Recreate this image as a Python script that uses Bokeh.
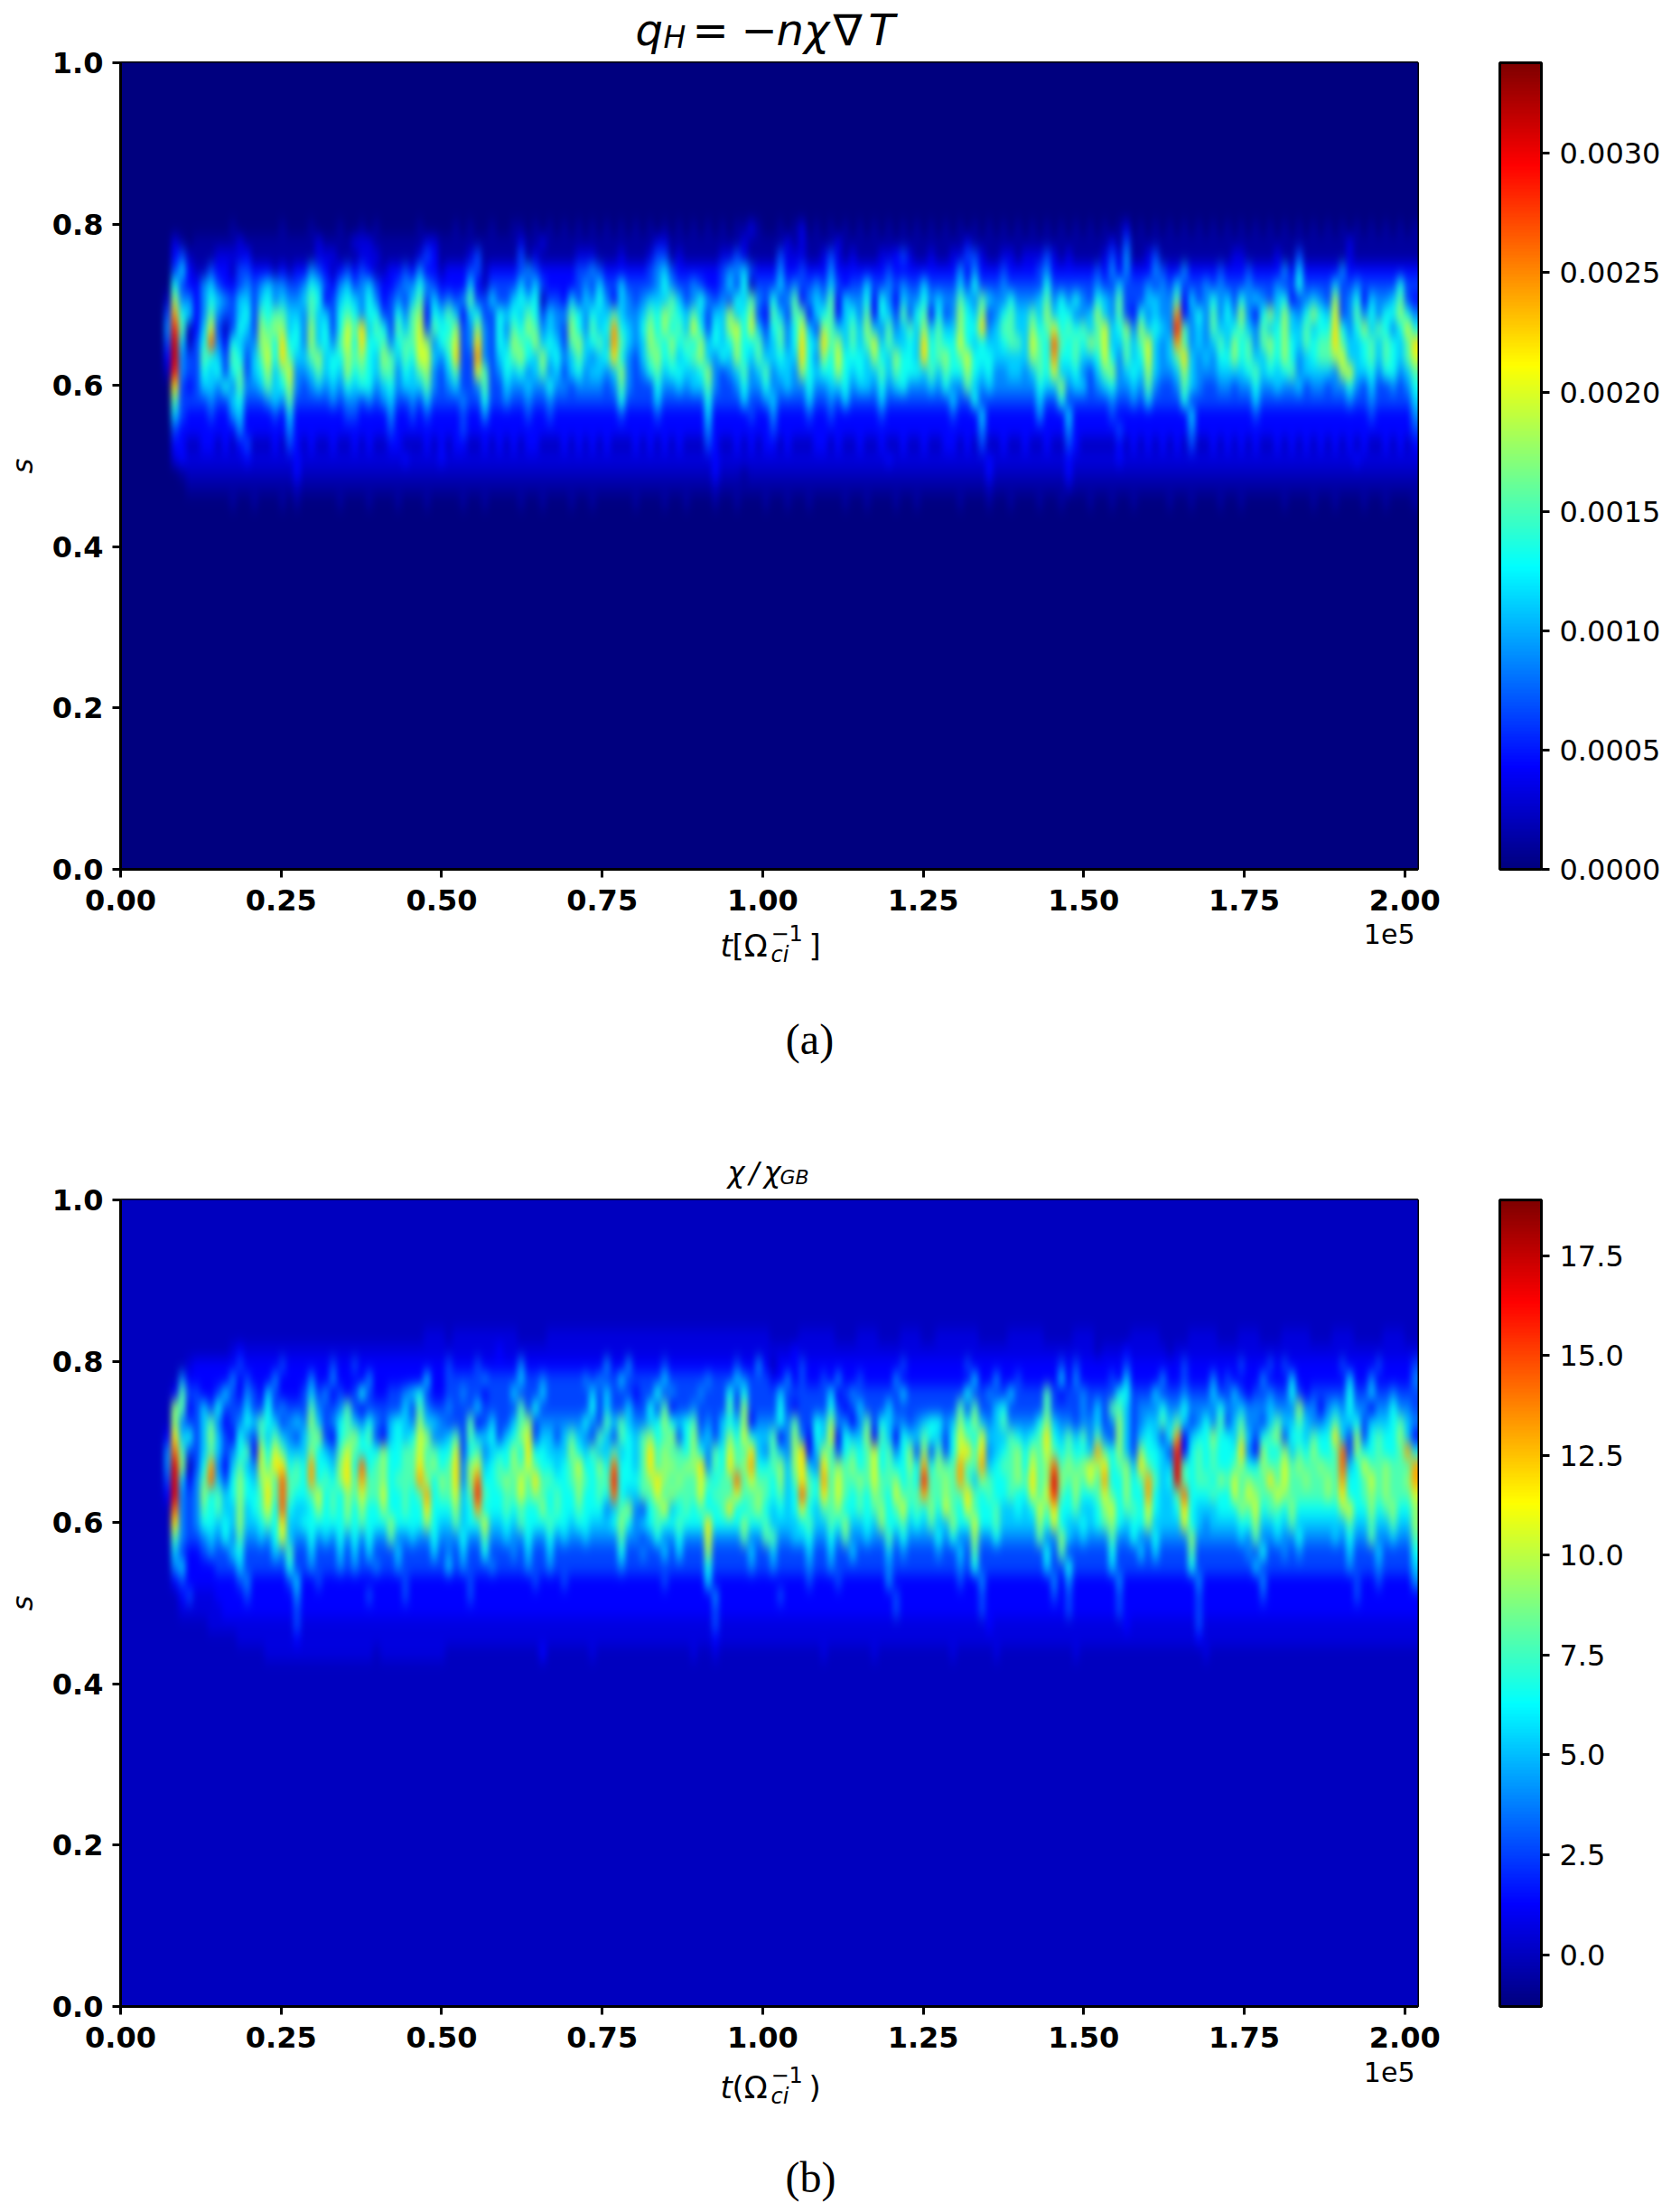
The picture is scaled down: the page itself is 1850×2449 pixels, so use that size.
from bokeh.embed import file_html
from bokeh.io import curdoc
from bokeh.layouts import column
from bokeh.models import ColorBar, CustomJS, FixedTicker, Label, LinearColorMapper, PrintfTickFormatter
from bokeh.plotting import figure
from bokeh.resources import INLINE
import numpy as np

t_ticks = [0, 25000, 50000, 75000, 100000, 125000, 150000, 175000, 200000]
t_labels = ["0.00", "0.25", "0.50", "0.75", "1.00", "1.25", "1.50", "1.75", "2.00"]
s_ticks = [0.0, 0.2, 0.4, 0.6, 0.8, 1.0]
qh_ticks = [0.0, 0.0005, 0.0010, 0.0015, 0.0020, 0.0025, 0.0030]
chi_ticks = [0.0, 2.5, 5.0, 7.5, 10.0, 12.5, 15.0, 17.5]

# values read off the picture as hex levels, band s=0.41..0.86, top row first,
# one list per quarter of the time axis, "." is 0.5 and ":" is 1.5
# qH = level * 0.00022, chi = (level - 1) * 1.3
qh_part1 = [
    "00000 00000 00000 00000 00000 00000 00000 00000 00000",
    "00000 00000 00000 00000 00000 00000 00000 00000 00000",
    "00000 00000 00000 00000 00000 00000 00000 00000 00000",
    "00000 00000 00000 .0000 00.00 0.000 .00.0 .0000 0.000",
    "00000 00:.0 ..... .:... ..... ..:.. ..::: ..... ..::.",
    "00000 00231 ...:: ::2.. ..... ..::: ...:: :.... .:32.",
    "00000 00352 11322 13322 21212 24321 23232 11223 24221",
    "00000 00632 24532 23434 54433 46532 45345 32234 46432",
    "00000 01844 24654 35535 64544 57623 56546 42343 57353",
    "00000 03b65 24743 35637 67755 47553 67646 63364 78265",
    "00000 04d71 25931 36538 78856 48563 697a5 76375 79376",
    "00000 03e51 36c42 65448 86a66 48564 796a6 67467 79846",
    "00000 02e43 37653 76357 96a75 57856 68786 58757 69954",
    "00000 01d43 36563 67356 85794 45756 58676 57746 57843",
    "00000 00a32 35546 47445 75684 34545 46566 45645 55743",
    "00000 00733 33433 56333 45473 33334 34434 34533 43533",
    "00000 00532 22322 45222 23252 22222 23322 22422 32322",
    "00000 00322 22222 24222 22242 22222 22222 22322 22222",
    "00000 00221 12212 12311 12132 12112 11212 11221 11212",
    "00000 00:2: ::::: ::2:: ::::2 ::::: ::::: ::::2 ::::2",
    "00000 000.1 11111 11111 11112 11111 11111 11111 11111",
    "00000 0000. ..... ..... ....1 ..... ..... ..... .....",
    "00000 00000 00000 .00.0 00.0. 00000 .000. 000.0 00.00",
    "00000 00000 00000 00000 00000 00000 00000 00000 00000",
    "00000 00000 00000 00000 00000 00000 00000 00000 00000",
]
qh_part2 = [
    "00000 00000 00000 00000 00000 00000 00000 00000 00000",
    "00000 00000 00000 00000 00000 00000 00000 00000 00000",
    "00000 00000 00000 00000 00000 00000 00000 00000 00000",
    "0.0.0 0.00. .0.0. 0.0.0 .0.0. 0.0.0 .0.0. 0.0.0 ..:.0",
    "..... ..... :..:. ..... ..... ....: :.... ..... .:...",
    "...:3 ..... 3.:.. ...:: :...: ...:3 3.:.. ...:: 3:...",
    "22233 12222 34322 22233 43222 22234 53222 22234 45322",
    "22252 13333 53532 22234 35335 33334 64334 32235 36133",
    "43473 35335 65613 32535 46425 43455 57534 64343 65743",
    "75256 33656 57635 44764 65575 44576 87657 53558 56832",
    "68348 43647 68745 43864 756b6 54686 86759 63658 96953",
    "79 34a 43658 76856 53785 675b7 54587 68676 85656 86674",
    "6a33b 43567 86585 64575 456a6 43578 67567 85465 86575",
    "57339 73465 64574 53564 55458 43467 56655 68434 57457",
    "45334 73354 45446 44344 44347 43336 44545 57433 46446",
    "33433 63343 34334 33333 33336 33335 33333 36333 35334",
    "22322 42222 23223 22222 22223 22223 22222 25222 22322",
    "22322 22222 22222 22222 22222 22222 22222 24222 22222",
    "12211 21212 12211 12121 21211 12121 21211 13211 21212",
    "::::: ::::: ::::: ::::: ::::: ::::: ::::: ::2:: :::::",
    "11111 11111 11111 11111 11111 11111 11111 11211 1.111",
    "..... ..... ..... ..... ..... ..... ..... ..1.. .....",
    "00.00 .0000 .00.0 00.00 .0000 0.000 .00.0 00.00 .000.",
    "00000 00000 00000 00000 00000 00000 00000 00000 00000",
    "00000 00000 00000 00000 00000 00000 00000 00000 00000",
]
qh_part3 = [
    "00000 00000 00000 00000 00000 00000 00000 00000 00000",
    "00000 00000 00000 00000 00000 00000 00000 00000 00000",
    "00000 00000 00000 00000 00000 00000 00000 00000 00000",
    "0.0.: 0.0.0 .0.0. 0.0.0 .0.0. 0.0.0 .0.0. 0.0.0 .0.0.",
    "..:.: ....: ..... ..... ..... ..:.. ..... ..... .....",
    ".3::: ..:3: .:... ::23: ..:.. ::33: ..::. :::3: .:...",
    "24223 22242 22222 23222 22222 24242 22322 22342 22222",
    "35343 34353 23353 34343 35333 35363 33433 33363 33333",
    "63472 45472 54462 64254 46454 47547 54464 44574 64643",
    "75377 25672 56472 65373 67263 48658 34675 57585 66445",
    "67469 53875 57585 47457 58575 5866a 45775 58679 67675",
    "5746a 65a78 57579 57556 5a676 69656 55677 5976c 76768",
    "5655a 64869 66658 65866 5a678 67966 65555 5876b 66755",
    "45548 65668 65655 75766 65757 66865 64455 45769 55643",
    "44544 64455 64554 64564 44546 44754 54444 44655 84553",
    "53333 53343 53333 53333 33333 53363 33333 33533 63333",
    "42222 32232 22222 32222 22222 32225 22222 22422 25222",
    "32222 22222 22222 22222 22222 22224 22222 22222 24222",
    "21211 12212 11211 21121 12112 21213 11211 21121 13211",
    "::::: ::::: ::::: :2::: ::::: ::::: 2:::: ::::: :2:::",
    "11111 11111 11111 11111 11111 11111 21111 11111 12111",
    "..... ..... ..... ..... ..... ..... 1.... ..... .1...",
    "00.00 .0000 .00.0 00.00 .0000 0.000 .00.0 00.00 .000.",
    "00000 00000 00000 00000 00000 00000 00000 00000 00000",
    "00000 00000 00000 00000 00000 00000 00000 00000 00000",
]
qh_part4 = [
    "00000 00000 00000 00000 00000 00000 00000 00000 00000",
    "00000 00000 00000 00000 00000 00000 00000 00000 00000",
    "00000 00000 00000 00000 00000 00000 00000 00000 00000",
    "0.0.: 0.0.0 .0.0. 0.0.0 .0.0. 0.0.0 .0.0. 0.0.0 .0.0.",
    "..:.3 ..... ..... ..... ..... ..... ..... :.... .....",
    ".:3:4 ..:3. ..... ....: :.... :..3. ..... :.... .....",
    "32424 22243 22422 22322 23222 24252 22224 22222 22222",
    "43353 33434 35333 43433 34333 43363 33353 34333 33633",
    "65473 33554 47253 46453 64543 56234 54383 46254 45732",
    "85473 26454 4b246 47464 84268 58546 86593 47464 66864",
    "79568 48565 4d745 47556 75475 68557 566a6 46857 64696",
    "79557 57954 5b745 45758 67478 68657 677a7 55675 7657a",
    "69647 56954 57a54 54668 67557 68645 67789 55675 76579",
    "57845 65854 45854 44555 56756 56745 55548 95564 66457",
    "45644 54743 34754 33443 44644 54453 44344 64353 34346",
    "33433 43533 33633 33333 33533 33333 33333 43343 33335",
    "22322 22222 22252 22222 22322 22222 22222 22232 22224",
    "22232 22222 22242 22222 22222 22222 22222 22222 22223",
    "11121 21212 12131 12121 21211 21212 12121 21211 21212",
    ":::2: ::::: ::::: ::::: ::::: ::::: ::::: :2::: :::::",
    "11111 11111 11111 11111 11111 11111 11111 11111 11111",
    "..... ..... ..... ..... ..... ..... ..... ..... .....",
    "00.00 .0000 .00.0 00.00 .0000 0.000 .00.0 00.00 .000.",
    "00000 00000 00000 00000 00000 00000 00000 00000 00000",
    "00000 00000 00000 00000 00000 00000 00000 00000 00000",
]
chi_part1 = [
    "11111 11111 11111 11111 11111 11111 11111 11111 11111",
    "11111 11111 11111 11111 11111 11111 11111 11111 11:::",
    "11111 11111 11111 :2::: ::::: ::::: ::::: ::::: :::::",
    "11111 1111: 22222 23222 22322 22223 22322 22222 22222",
    "11111 11142 22222 42322 24222 24224 22224 22222 22522",
    "11111 11273 32235 32432 53222 35342 32363 22334 56322",
    "11111 11872 35363 33533 63433 37433 47323 33335 37433",
    "11111 11843 35742 34657 65345 48534 67546 43565 48554",
    "11111 12a56 35853 26437 57543 57832 67867 32565 69844",
    "11111 14c73 35753 46729 69755 58654 79766 68667 79776",
    "11111 14e81 36b42 57549 7aa67 6b665 8a6c6 78667 7a786",
    "11111 13e52 47c53 68658 97c77 6b676 8a7b7 78677 7b868",
    "11111 12e43 48675 68667 a7c76 67967 68797 79667 67b67",
    "11111 11c43 47675 58567 96c65 56867 68686 68667 66a66",
    "11111 11a43 46656 58556 76a55 66666 67676 66866 66865",
    "11111 11743 34546 47445 46954 46454 64646 44744 54464",
    "11111 11532 23433 56333 35473 35333 53535 33353 33353",
    "11111 11452 22233 35333 33363 34333 43433 43343 33333",
    "11111 11232 22222 23422 22235 22322 22222 22223 22222",
    "11111 11123 :::22 22322 22224 22222 22223 22223 22222",
    "11111 111:: ::::2 22222 22223 22222 22222 22222 22222",
    "11111 11111 11::: ::::: ::::3 ::::: ::::: ::::: :::::",
    "11111 11111 11111 1:::: ::::2 ::::: ::::: ::::: :::::",
    "11111 11111 11111 11111 ::::: ::::: ::::: 1:::: :::::",
    "11111 11111 11111 11111 11111 11111 11111 11111 11111",
]
chi_part2 = [
    "11111 11111 11111 11111 11111 11111 11111 11111 11111",
    "1:::: ::::: 1111: ::::: ::::: ::::: ::::: ::::: :::::",
    "::::: ::2:: ::::: ::::: ::::: ::::: ::::: ::::: :::::",
    "32223 22222 42222 22222 22422 42222 32222 22222 32242",
    "33333 43333 53343 33334 34335 33333 53333 34333 54333",
    "33433 23335 33353 33333 53533 32336 34333 43336 36333",
    "43335 33333 73633 33333 63533 53363 72334 33337 38333",
    "33372 35335 78344 44446 43757 54456 86567 34356 58244",
    "57375 56356 89355 35754 37537 65786 78368 45358 69655",
    "69367 45668 6a665 55865 75575 657a7 87768 64769 77a54",
    "7a489 56768 79766 56796 686c6 657a7 88788 a476a 78b66",
    "7a48c 66787 97a77 66787 677d6 6678a 87877 97677 c7977",
    "79 57d 76677 97876 76686 676c6 55779 78777 96777 97787",
    "6856b 66676 76686 76676 66457 84367 95676 7667a 66786",
    "57566 95565 76667 66566 55568 64567 66766 6a666 68667",
    "44644 74454 46446 45445 44447 44346 44644 49444 47447",
    "43533 63334 35335 33333 33336 33433 53533 38333 33533",
    "53433 34333 34334 33333 33334 33333 33333 36333 33433",
    "22232 22222 22322 23222 22222 22222 32222 25222 22222",
    "22232 22222 22222 22222 22222 22222 22222 22422 22222",
    "22222 22222 22222 22222 22222 22222 22222 22322 22222",
    "::::: ::::: ::::: ::::: ::::: ::::: ::::: ::3:: :::::",
    "::::: ::::: ::::: ::::: ::::: ::::: ::::: ::2:: :::::",
    "11111 11111 11121 11111 :1111 11111 1111: 11:11 11111",
    "11111 11111 11111 11111 11111 11111 11111 11111 11111",
]
chi_part3 = [
    "11111 11111 11111 11111 11111 11111 11111 11111 11111",
    "1111: ::::1 11::: 111:: :11:: ::::1 111:: :::11 11:::",
    ":::2: ::::: ::::: ::::: ::::: ::::: ::::: ::::: :::::",
    "12223 22222 22222 22232 22222 22322 22222 22222 32322",
    "22423 22324 22322 22422 22222 22252 24223 22222 52422",
    "35333 33352 34333 33353 33333 33633 43353 33373 23343",
    "36323 33363 23533 35333 33333 37373 35633 33373 33343",
    "46473 36584 42473 65443 45664 58685 45744 44685 44344",
    "72484 26592 65582 75265 57653 69769 55576 567a6 57574",
    "7548a 25873 67679 67468 38373 69a7a 45678 68797 67665",
    "7858a 54a78 78679 67668 6b687 7b77b 56778 6978c 78789",
    "6857a 76b79 77879 77867 6d778 7b758 76678 7a78e 87879",
    "6756c 76a79 76768 76977 7b778 77a76 76676 6979d 76866",
    "56569 65778 66767 86796 76869 76976 67556 5697a 66755",
    "55556 75576 85565 86675 65755 86696 67555 55869 65565",
    "74455 64464 74454 47464 44464 64484 46444 44744 85454",
    "53333 53353 35333 35343 33343 35373 33333 33363 73333",
    "43333 43343 33333 34333 33333 34363 33333 33353 36333",
    "22222 32223 22222 24222 22222 23224 22222 22224 24222",
    "23222 22222 22222 22322 22222 22223 22222 22223 23222",
    "22222 22222 22222 22322 22222 22223 22222 22222 23222",
    "::::: ::::: ::::: ::::: ::::: ::::: 2:::: ::::: :::::",
    "::::: ::::: ::::: ::::: ::::: ::::: ::::: ::::: :::::",
    "11111 11:11 1111: 11111 11111 :1111 1:111 11111 11:11",
    "11111 11111 11111 11111 11111 11111 11111 11111 11111",
]
chi_part4 = [
    "11111 11111 11111 11111 11111 11111 11111 11111 11111",
    "11111 ::::1 111:: ::111 :::11 1:::: 111:: :1111 :::11",
    "1:::2 ::::: 1:::: ::::: ::::: ::::: ::::: ::::: :::::",
    "22223 22222 22322 22222 32223 23222 22223 22223 22223",
    "22325 22224 22322 24232 22242 22522 22222 52242 22224",
    "33366 33353 33433 35335 32334 33632 33333 63353 34333",
    "53775 34446 44644 44644 54445 44484 42454 64424 46443",
    "53485 34557 57534 64735 74435 75575 44575 56355 56754",
    "74385 35653 6b256 68665 85367 83665 766a5 38367 66852",
    "b7685 38665 3d267 67666 a4286 68576 8667c 38667 667b6",
    "8a678 5a765 5e767 67667 86687 79787 7877c 56977 8777b",
    "7b668 67b75 6e767 76879 7877a 79778 7787b 66797 8778b",
    "79768 66b65 57c66 67669 79877 98777 7787a 66787 87779",
    "68967 76965 56a65 55666 87967 76866 66668 96686 78668",
    "67865 66855 55965 45555 66855 65755 55555 75575 57558",
    "44744 64464 44484 44444 54744 54464 44454 64474 45447",
    "33633 35353 33373 33333 34363 34343 33333 53335 33336",
    "33533 33333 33363 33333 33533 33333 33333 43334 33335",
    "22242 22222 22224 22222 22242 22222 22222 23223 22224",
    "22232 22222 22223 22222 22232 22222 22222 23222 22222",
    "22232 22222 22223 22222 22222 22222 22222 22222 22222",
    "::::2 ::::: ::::3 ::::: ::::: ::::: ::::: ::::: :::::",
    "::::: ::::: ::::2 ::::: ::::: ::::: ::::: ::::: :::::",
    "11111 11111 11111 :1111 11111 11111 11111 11111 11111",
    "11111 11111 11111 11111 11111 11111 11111 11111 11111",
]

LEFT = 133
FRAME_W = 1436
FRAME_H = 893
WIDTH = 1842
EDGE = 3
SANS = "DejaVu Sans"
SERIF = "Liberation Serif"
DIGITS = {".": 0.5, ":": 1.5}


def jet(n=256):
    x = np.linspace(0, 1, n)
    r = np.clip(1.5 - np.abs(4 * x - 3), 0, 1)
    g = np.clip(1.5 - np.abs(4 * x - 2), 0, 1)
    b = np.clip(1.5 - np.abs(4 * x - 1), 0, 1)
    return ["#%02x%02x%02x" % (int(a * 255), int(c * 255), int(d * 255)) for a, c, d in zip(r, g, b)]


def levels(parts, pad):
    rows = []
    for j in range(25):
        row = []
        for part in parts:
            seg = part[j].replace(" ", "")
            seg = seg[:45].ljust(45, seg[-1])
            row += [DIGITS[c] if c in DIGITS else int(c, 16) for c in seg]
        rows.append(row)
    band = np.array(rows, dtype=float)
    above = np.full((8, 180), float(pad))
    below = np.full((23, 180), float(pad))
    # repeat the edge cells outside the axes so the blur has something to reach
    return np.pad(np.vstack([above, band, below])[::-1], EDGE, mode="edge")


def panel(m, low, high, ticks, fmt):
    p = figure(width=WIDTH, height=18 + FRAME_H + 56, output_backend="svg", toolbar_location=None,
               x_range=(0, 202000), y_range=(0, 1), frame_width=FRAME_W, frame_height=FRAME_H,
               min_border_left=LEFT, min_border_right=WIDTH - LEFT - FRAME_W, min_border_top=18,
               min_border_bottom=56, margin=(-16, 0, 0, 0), border_fill_color=None)
    mapper = LinearColorMapper(palette=jet(), low=low, high=high)
    cell_t = 202000 / 180
    cell_s = 1 / 56
    p.image(image=[m], x=-EDGE * cell_t, y=-EDGE * cell_s, dw=(180 + 2 * EDGE) * cell_t,
            dh=(56 + 2 * EDGE) * cell_s, color_mapper=mapper)
    p.grid.visible = False
    p.outline_line_color = "black"
    p.outline_line_width = 3
    for ax in (p.xaxis[0], p.yaxis[0]):
        ax.axis_line_width = 3
        ax.major_tick_line_width = 3
        ax.major_tick_out = 9
        ax.major_tick_in = 0
        ax.minor_tick_line_color = None
        ax.major_label_text_font = SANS
        ax.major_label_text_font_style = "bold"
        ax.major_label_text_font_size = "32px"
        ax.major_label_text_color = "black"
    p.xaxis[0].ticker = FixedTicker(ticks=t_ticks)
    p.xaxis[0].major_label_overrides = dict(zip(t_ticks, t_labels))
    p.xaxis[0].major_label_standoff = 13
    p.yaxis[0].ticker = FixedTicker(ticks=s_ticks)
    p.yaxis[0].formatter = PrintfTickFormatter(format="%.1f")
    p.yaxis[0].major_label_standoff = 10
    p.yaxis[0].axis_label = "s"
    p.yaxis[0].axis_label_text_font = SANS
    p.yaxis[0].axis_label_text_font_style = "italic"
    p.yaxis[0].axis_label_text_font_size = "32px"
    p.yaxis[0].axis_label_text_color = "black"
    p.yaxis[0].axis_label_standoff = 11
    cb = ColorBar(color_mapper=mapper, location=(1527, 0), width=46, height=FRAME_H, margin=0, padding=0,
                  ticker=FixedTicker(ticks=ticks), formatter=PrintfTickFormatter(format=fmt),
                  bar_line_color="black", bar_line_width=3, major_tick_in=0, major_tick_out=9,
                  major_tick_line_color="black", major_tick_line_width=3, label_standoff=11,
                  major_label_text_font=SANS, major_label_text_font_size="32px", major_label_text_color="black")
    p.add_layout(cb)
    return p


def strip(page_top, page_bottom, items):
    # plain band of text above or below a panel, items use page pixels.
    # the column lines its frame up with the panels, hence the LEFT and the 18
    h = page_bottom - page_top
    p = figure(width=WIDTH, height=h, output_backend="svg", toolbar_location=None,
               x_range=(0, WIDTH), y_range=(0, h), min_border=0, x_axis_type=None, y_axis_type=None,
               outline_line_color=None)
    p.grid.visible = False
    for x, y, s, size, style, font, align in items:
        p.add_layout(Label(x=x - LEFT, y=page_bottom - y + 18, x_units="screen", y_units="screen", text=s,
                           text_font=font, text_font_size=f"{size}px", text_font_style=style,
                           text_align=align, text_baseline="alphabetic", text_color="black"))
    return p


qh = levels([qh_part1, qh_part2, qh_part3, qh_part4], 0) * 0.00022
chi = (levels([chi_part1, chi_part2, chi_part3, chi_part4], 1) - 1) * 1.3

title_a = strip(0, 67, [
    (703, 50, "q", 48, "italic", SANS, "left"),
    (734, 59, "H", 33, "italic", SANS, "left"),
    (766, 50, "=", 48, "normal", SANS, "left"),
    (820, 50, "\u2212", 48, "normal", SANS, "left"),
    (859, 50, "n\u03c7", 48, "italic", SANS, "left"),
    (922, 50, "\u2207", 48, "normal", SANS, "left"),
    (961, 50, "T", 48, "italic", SANS, "left"),
])
main_a = panel(qh, 0, 0.00338, qh_ticks, "%.4f")
below_a = strip(1018, 1190, [
    (797, 1064, "t", 34, "italic", SANS, "left"),
    (810, 1064, "[\u03a9", 34, "normal", SANS, "left"),
    (853, 1050, "\u22121", 24, "normal", SANS, "left"),
    (853, 1074, "ci", 24, "italic", SANS, "left"),
    (895, 1064, "]", 34, "normal", SANS, "left"),
    (1566, 1051, "1e5", 30, "normal", SANS, "right"),
    (896, 1168, "(a)", 48, "normal", SERIF, "center"),
])
title_b = strip(1190, 1326, [
    (805, 1315, "\u03c7", 32, "italic", SANS, "left"),
    (829, 1315, "/", 32, "italic", SANS, "left"),
    (845, 1315, "\u03c7", 32, "italic", SANS, "left"),
    (863, 1321, "GB", 22, "italic", SANS, "left"),
])
main_b = panel(chi, -1.3, 18.9, chi_ticks, "%.1f")
below_b = strip(2277, 2441, [
    (797, 2328, "t", 34, "italic", SANS, "left"),
    (810, 2328, "(\u03a9", 34, "normal", SANS, "left"),
    (853, 2314, "\u22121", 24, "normal", SANS, "left"),
    (853, 2338, "ci", 24, "italic", SANS, "left"),
    (895, 2328, ")", 34, "normal", SANS, "left"),
    (1566, 2311, "1e5", 30, "normal", SANS, "right"),
    (897, 2428, "(b)", 48, "normal", SERIF, "center"),
])

# the original was drawn with imshow smoothing, bokeh's svg images are blocky
smooth = CustomJS(code="""
const NS = 'http://www.w3.org/2000/svg'
function walk(root) {
  root.querySelectorAll('*').forEach((e) => {
    if (e.tagName.toLowerCase() === 'image' && Number(e.getAttribute('width')) > 100) {
      const svg = e.ownerSVGElement
      if (!svg.querySelector('#smooth')) {
        const f = document.createElementNS(NS, 'filter')
        f.setAttribute('id', 'smooth')
        f.setAttribute('color-interpolation-filters', 'sRGB')
        const b = document.createElementNS(NS, 'feGaussianBlur')
        b.setAttribute('stdDeviation', '3 8')
        f.appendChild(b)
        svg.appendChild(f)
      }
      e.setAttribute('filter', 'url(#smooth)')
    }
    if (e.shadowRoot) walk(e.shadowRoot)
  })
}
for (const ms of [0, 100, 500, 1000]) setTimeout(() => walk(document), ms)
""")

layout = column(title_a, main_a, below_a, title_b, main_b, below_b, spacing=0)
doc = curdoc()
doc.add_root(layout)
doc.js_on_event("document_ready", smooth)
open("out.html", "w").write(file_html(layout, INLINE))
